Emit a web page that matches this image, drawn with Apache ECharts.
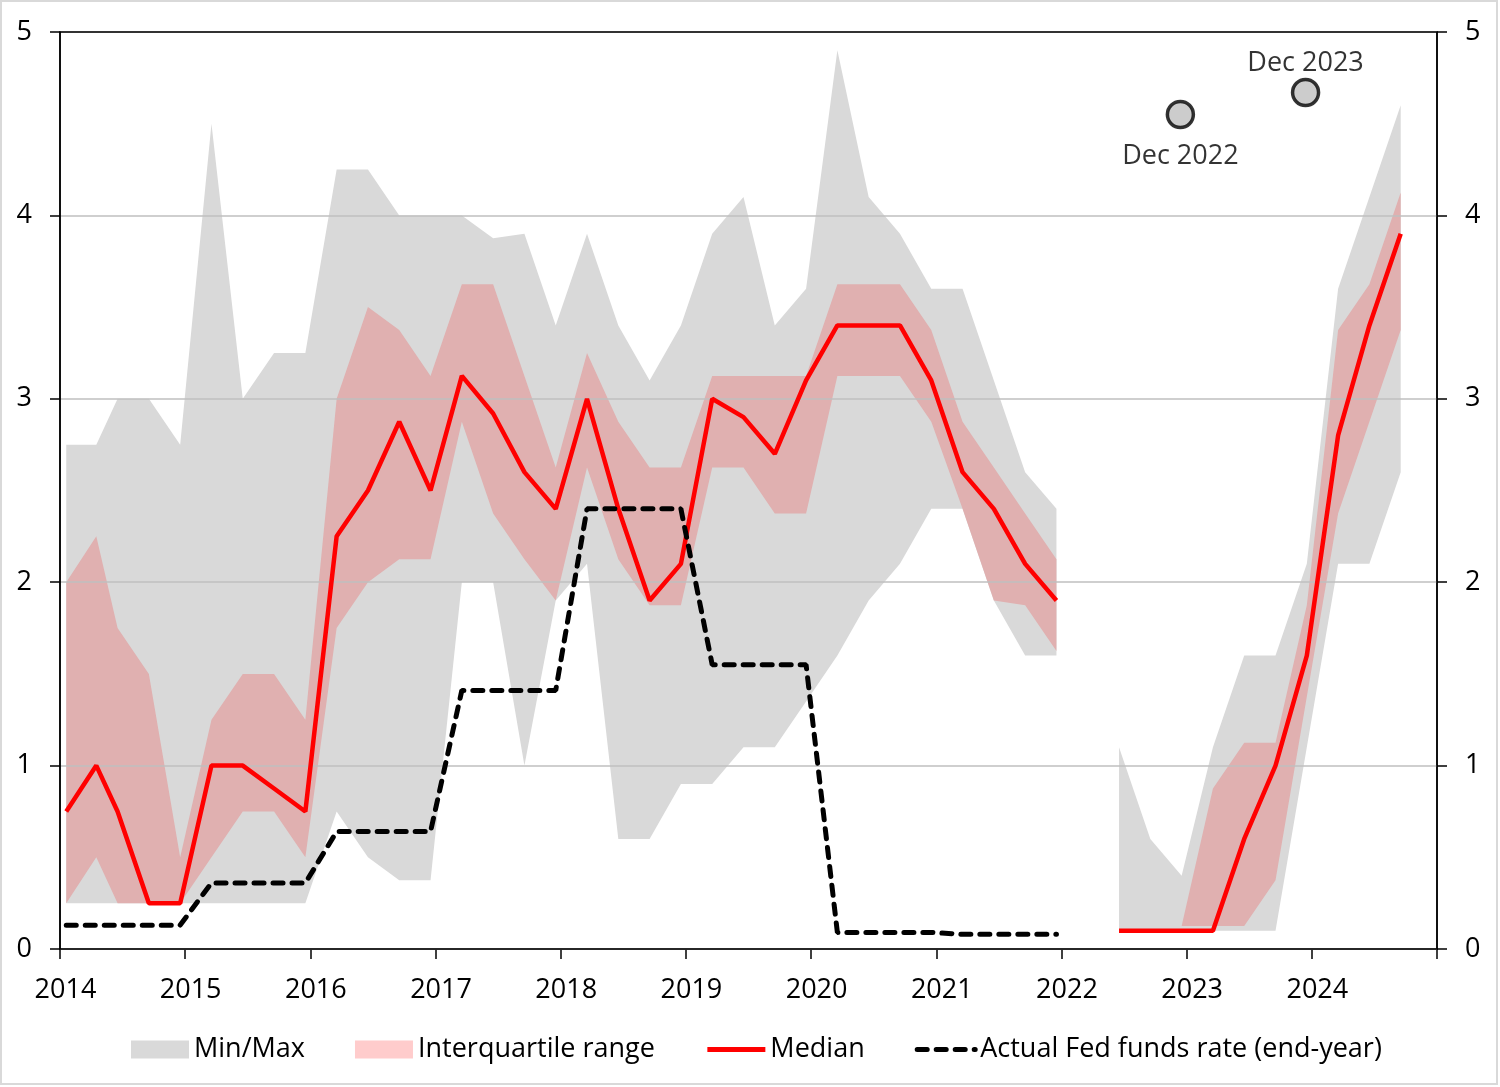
<!DOCTYPE html>
<html>
<head>
<meta charset="utf-8">
<script src="https://cdn.jsdelivr.net/npm/echarts@6/dist/echarts.min.js"></script>
<style>
  html, body { margin: 0; padding: 0; background: #fff; }
  #chart { width: 1500px; height: 1087px; }
</style>
</head>
<body>
<div id="chart"></div>
<script>
// FOMC meeting dates as decimal years (null row = gap in the series)
const meetings = [
  2014.05, 2014.29, 2014.46, 2014.71, 2014.96,
  2015.21, 2015.46, 2015.71, 2015.96,
  2016.21, 2016.46, 2016.71, 2016.96,
  2017.21, 2017.46, 2017.71, 2017.96,
  2018.21, 2018.46, 2018.71, 2018.96,
  2019.21, 2019.46, 2019.71, 2019.96,
  2020.21, 2020.46, 2020.71, 2020.96,
  2021.21, 2021.46, 2021.71, 2021.96,
  2022.21, 2022.46, 2022.71, 2022.96,
  2023.21, 2023.46, 2023.71, 2023.96,
  2024.21, 2024.46, 2024.71
];
const maxRate = [
  2.75, 2.75, 3.0, 3.0, 2.75,
  4.5, 3.0, 3.25, 3.25,
  4.25, 4.25, 4.0, 4.0,
  4.0, 3.875, 3.9, 3.4,
  3.9, 3.4, 3.1, 3.4,
  3.9, 4.1, 3.4, 3.6,
  4.9, 4.1, 3.9, 3.6,
  3.6, 3.1, 2.6, 2.4,
  null, 1.1, 0.6, 0.4,
  1.1, 1.6, 1.6, 2.1,
  3.6, 4.1, 4.6
];
const minRate = [
  0.25, 0.25, 0.25, 0.25, 0.25,
  0.25, 0.25, 0.25, 0.25,
  0.75, 0.5, 0.375, 0.375,
  2.0, 2.0, 1.0, 1.9,
  2.1, 0.6, 0.6, 0.9,
  0.9, 1.1, 1.1, 1.35,
  1.6, 1.9, 2.1, 2.4,
  2.4, 1.9, 1.6, 1.6,
  null, 0.1, 0.1, 0.1,
  0.1, 0.1, 0.1, 1.1,
  2.1, 2.1, 2.6
];
const iqrHigh = [
  2.0, 2.25, 1.75, 1.5, 0.5,
  1.25, 1.5, 1.5, 1.25,
  3.0, 3.5, 3.375, 3.125,
  3.625, 3.625, 3.125, 2.625,
  3.25, 2.875, 2.625, 2.625,
  3.125, 3.125, 3.125, 3.125,
  3.625, 3.625, 3.625, 3.375,
  2.875, 2.625, 2.375, 2.125,
  null, null, null, 0.125,
  0.875, 1.125, 1.125, 1.875,
  3.375, 3.625, 4.125
];
const iqrLow = [
  0.25, 0.5, 0.25, 0.25, 0.25,
  0.5, 0.75, 0.75, 0.5,
  1.75, 2.0, 2.125, 2.125,
  2.875, 2.375, 2.125, 1.9,
  2.625, 2.125, 1.875, 1.875,
  2.625, 2.625, 2.375, 2.375,
  3.125, 3.125, 3.125, 2.875,
  2.4, 1.9, 1.875, 1.625,
  null, null, null, 0.125,
  0.125, 0.125, 0.375, 1.375,
  2.375, 2.875, 3.375
];
const median = [
  0.75, 1.0, 0.75, 0.25, 0.25,
  1.0, 1.0, 0.875, 0.75,
  2.25, 2.5, 2.875, 2.5,
  3.125, 2.92, 2.6, 2.4,
  3.0, 2.4, 1.9, 2.1,
  3.0, 2.9, 2.7, 3.1,
  3.4, 3.4, 3.4, 3.1,
  2.6, 2.4, 2.1, 1.9,
  null, 0.1, 0.1, 0.1,
  0.1, 0.6, 1.0, 1.6,
  2.8, 3.4, 3.9
];
const fedFunds = [
  0.13, 0.13, 0.13, 0.13, 0.13,
  0.36, 0.36, 0.36, 0.36,
  0.64, 0.64, 0.64, 0.64,
  1.41, 1.41, 1.41, 1.41,
  2.4, 2.4, 2.4, 2.4,
  1.55, 1.55, 1.55, 1.55,
  0.09, 0.09, 0.09, 0.09,
  0.08, 0.08, 0.08, 0.08,
  null, null, null, null,
  null, null, null, null,
  null, null, null
];
const dotLabels = ['Dec 2022', 'Dec 2023'];
const dotDates = [2022.95, 2023.95];
const dotValues = [4.55, 4.67];
const yearTicks = [2014, 2015, 2016, 2017, 2018, 2019, 2020, 2021, 2022, 2023, 2024];

const FONT = "'Open Sans', 'Noto Sans', sans-serif";
const FS = 27;
const DASH = [10, 9];

function pairs(values) {
  return meetings.map((x, i) => [x, values[i] == null ? '-' : values[i]]);
}

// filled band between two series, drawn as polygons through the grid's scales
function bandSeries(name, lo, hi, legendColor, fill) {
  return {
    name, type: 'custom', coordinateSystem: 'cartesian2d', z: 2, silent: true,
    itemStyle: { color: legendColor },
    data: [[meetings[0], lo[0]]],
    renderItem: (params, api) => {
      let children = [], run = [];
      let flush = () => {
        if (run.length > 1) {
          let top = run.map(i => api.coord([meetings[i], hi[i]]));
          let bottom = run.slice().reverse().map(i => api.coord([meetings[i], lo[i]]));
          children.push({ type: 'polygon', shape: { points: top.concat(bottom) }, style: { fill } });
        }
        run = [];
      };
      meetings.forEach((x, i) => (hi[i] == null || lo[i] == null) ? flush() : run.push(i));
      flush();
      return { type: 'group', children };
    }
  };
}

let chart = echarts.init(document.getElementById('chart'), null, { renderer: 'canvas' });

chart.setOption({
  animation: false,
  backgroundColor: '#fff',
  textStyle: { fontFamily: FONT },
  graphic: [{
    type: 'rect', shape: { x: 1, y: 1, width: 1496, height: 1083 },
    style: { fill: 'none', stroke: '#d9d9d9', lineWidth: 2 }, silent: true
  }],
  grid: { left: 60, right: 63, top: 32, bottom: 138, show: true, borderColor: '#000', borderWidth: 1.5, z: 10 },
  legend: {
    left: 126, top: 1031,
    itemWidth: 58, itemHeight: 18, itemGap: 50,
    textStyle: { fontSize: FS, color: '#000', fontFamily: FONT },
    data: [
      { name: 'Min/Max', icon: 'rect' },
      { name: 'Interquartile range', icon: 'rect' },
      { name: 'Median', itemStyle: { opacity: 0 }, lineStyle: { width: 5 } },
      { name: 'Actual Fed funds rate (end-year)', itemStyle: { opacity: 0 },
        lineStyle: { width: 5, type: DASH, cap: 'round' } }
    ]
  },
  xAxis: {
    type: 'value', min: 2014, max: 2025, interval: 1,
    axisLine: { lineStyle: { color: '#000', width: 1.5 } },
    axisTick: { show: true, length: 10, lineStyle: { color: '#000', width: 1.5 } },
    axisLabel: {
      fontSize: FS, color: '#000', margin: 28, padding: [0, 0, 0, 11],
      formatter: v => yearTicks.includes(v) ? String(v) : ''
    },
    splitLine: { show: false }
  },
  yAxis: [{
    type: 'value', min: 0, max: 5, interval: 1, position: 'left', z: 3,
    axisLine: { show: true, lineStyle: { color: '#000', width: 1.5 } },
    axisTick: { show: true, length: 10, lineStyle: { color: '#000', width: 1.5 } },
    axisLabel: { fontSize: FS, color: '#000', margin: 28 },
    splitLine: { show: true, lineStyle: { color: '#bfbfbf', width: 1.5 } }
  }, {
    type: 'value', min: 0, max: 5, interval: 1, position: 'right',
    axisLine: { show: true, lineStyle: { color: '#000', width: 1.5 } },
    axisTick: { show: true, length: 10, lineStyle: { color: '#000', width: 1.5 } },
    axisLabel: { fontSize: FS, color: '#000', margin: 28 },
    splitLine: { show: false }
  }],
  series: [
    bandSeries('Min/Max', minRate, maxRate, '#d9d9d9', '#d9d9d9'),
    bandSeries('Interquartile range', iqrLow, iqrHigh, '#ffcccc', '#e0b0b0'),
    {
      name: 'Median', type: 'line', z: 5, symbol: 'none', connectNulls: false,
      itemStyle: { color: '#ff0000' },
      lineStyle: { color: '#ff0000', width: 4.5 },
      data: pairs(median)
    },
    {
      name: 'Actual Fed funds rate (end-year)', type: 'line', z: 6, symbol: 'none', connectNulls: false,
      itemStyle: { color: '#000' },
      lineStyle: { color: '#000', width: 5, type: DASH, cap: 'round' },
      data: pairs(fedFunds)
    },
    {
      name: 'Dots', type: 'scatter', z: 7, symbolSize: 26,
      itemStyle: { color: '#bfbfbf', borderColor: '#000', borderWidth: 3.5 },
      label: { show: true, fontSize: FS, color: '#000', fontFamily: FONT, formatter: p => dotLabels[p.dataIndex] },
      data: dotDates.map((x, i) => ({
        value: [x, dotValues[i]],
        label: i === 0 ? { position: 'bottom', distance: 14 } : { position: 'top', distance: 1 }
      }))
    }
  ]
});
</script>
</body>
</html>
